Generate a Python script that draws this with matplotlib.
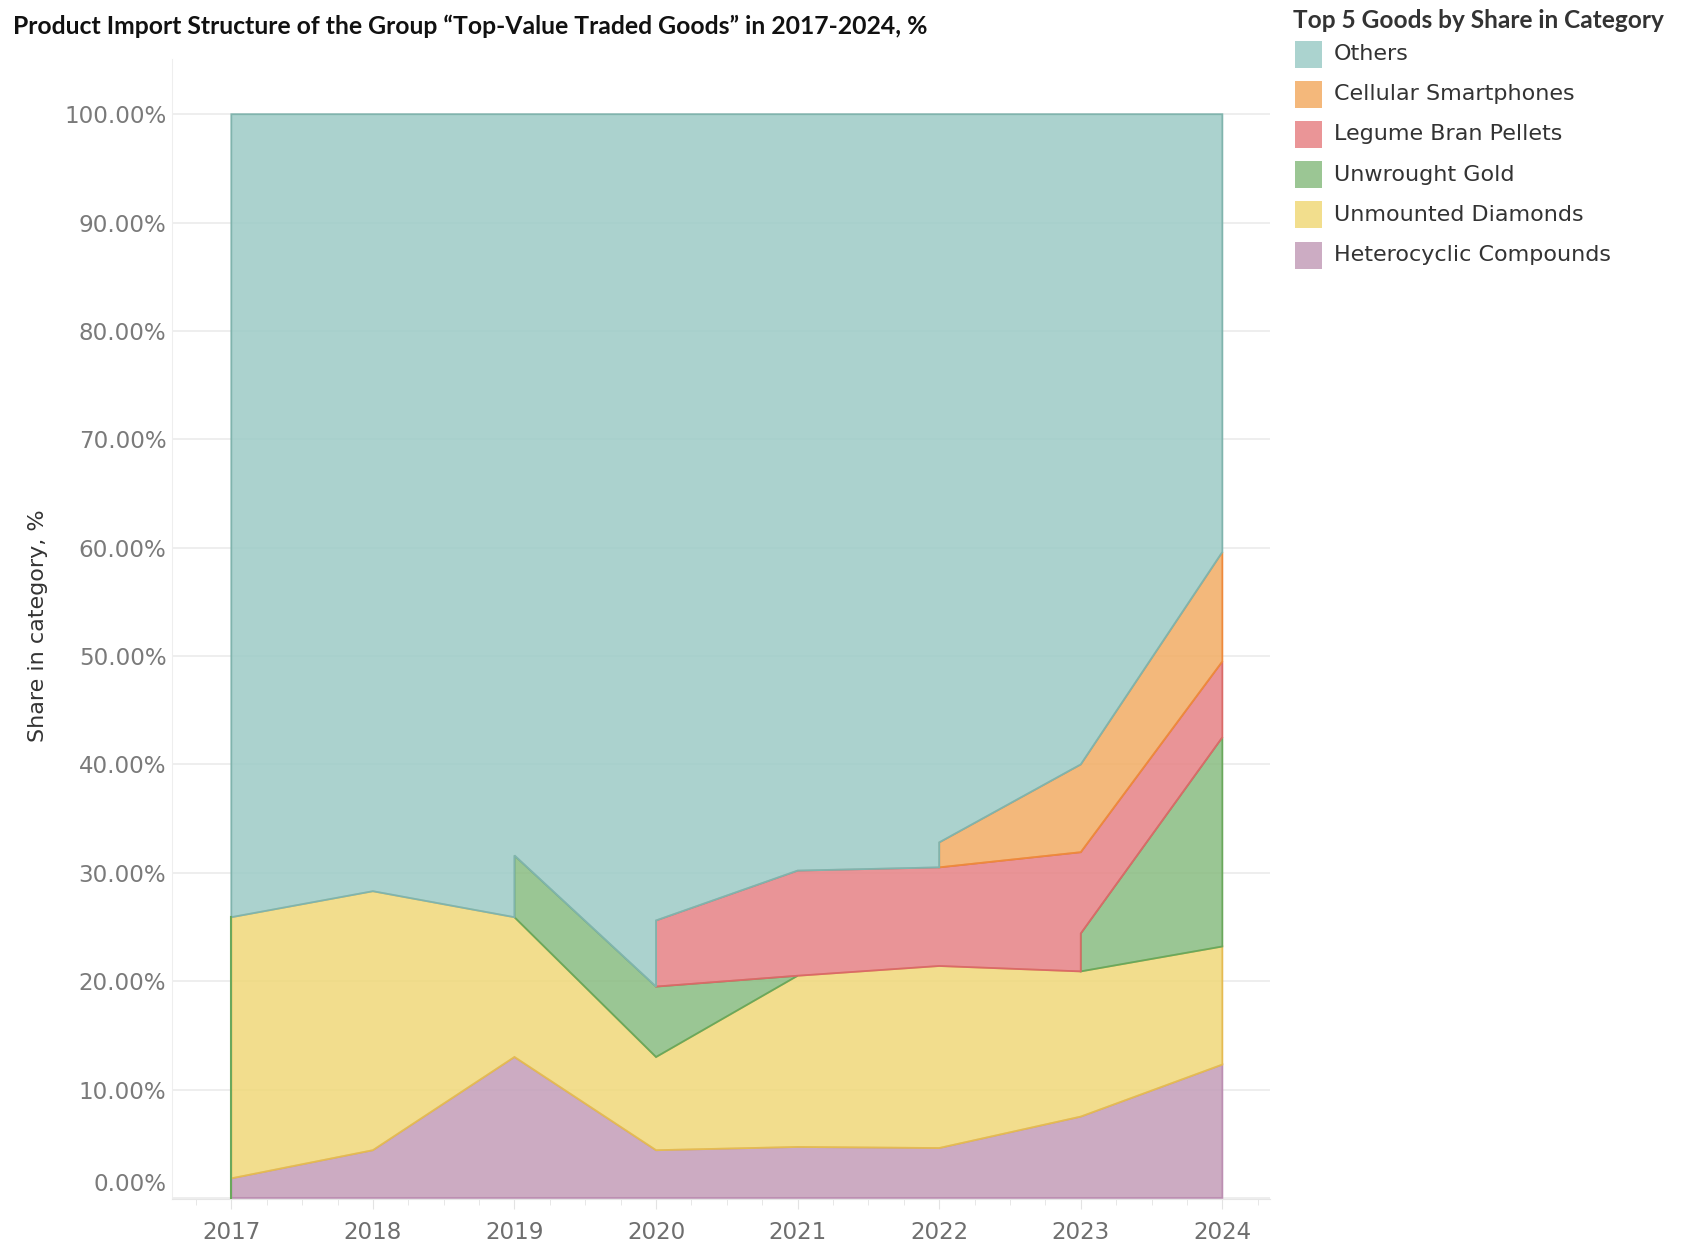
import numpy as np
import matplotlib.pyplot as plt
from matplotlib.patches import Rectangle
from matplotlib.transforms import ScaledTranslation
from matplotlib.ticker import MultipleLocator

# shares in category, %, per year; nan = good not among the top in that year
years = [2017, 2018, 2019, 2020, 2021, 2022, 2023, 2024]
nan = np.nan
heterocyclic = [1.8, 4.4, 13.0, 4.4, 4.7, 4.6, 7.5, 12.3]
diamonds = [24.1, 23.9, 12.9, 8.6, 15.8, 16.8, 13.4, 10.9]
gold = [nan, nan, 5.7, 6.5, 0.0, nan, 3.5, 19.3]
legume = [nan, nan, nan, 6.1, 9.7, 9.1, 7.5, 7.0]
smartphones = [nan, nan, nan, nan, nan, 2.3, 8.1, 10.1]
others = [74.1, 71.7, 68.4, 74.4, 69.8, 67.2, 60.0, 40.4]

names = ["Heterocyclic Compounds", "Unmounted Diamonds", "Unwrought Gold",
         "Legume Bran Pellets", "Cellular Smartphones", "Others"]
values = [heterocyclic, diamonds, gold, legume, smartphones, others]
legend_colors = ["#ccacc3", "#f2de8d", "#9bc694", "#ea9597", "#f4b87b", "#abd3cf"]
fill_colors = ["#c39db8", "#f0d879", "#89bc81", "#e68285", "#f2ac64", "#9ccbc6"]
edge_colors = ["#bc8fb2", "#e5bb52", "#6aa85c", "#da6a68", "#ee8a3c", "#80b4ad"]

fig = plt.figure(figsize=(16.85, 12.44), dpi=100)
ax = fig.add_axes([0.102, 0.0362, 0.652, 0.9164])

x = np.array(years, dtype=float)
vals = np.array(values, dtype=float)
present = ~np.isnan(vals)
tops = np.cumsum(np.nan_to_num(vals), axis=0)
n = len(years)

for k in range(len(names)):
    drawn = present[k][:-1] & present[k][1:]
    # bottom of each segment = top of the nearest lower series drawn there
    seg_bottom = []
    for i in range(n - 1):
        b = (0.0, 0.0)
        for j in range(k - 1, -1, -1):
            if present[j][i] and present[j][i + 1]:
                b = (tops[j][i], tops[j][i + 1])
                break
        seg_bottom.append(b)
    i = 0
    while i < n - 1:
        if not drawn[i]:
            i += 1
            continue
        i0 = i
        while i < n - 1 and drawn[i]:
            i += 1
        i1 = i - 1
        xs = list(x[i0:i1 + 2])
        ys = list(tops[k][i0:i1 + 2])
        for s in range(i1, i0 - 1, -1):
            xs += [x[s + 1], x[s]]
            ys += [seg_bottom[s][1], seg_bottom[s][0]]
        ax.fill(xs, ys, facecolor=fill_colors[k], alpha=0.85, zorder=2 + k, lw=0)
        ax.fill(xs, ys, facecolor="none", edgecolor=edge_colors[k], lw=1.3,
                zorder=2 + k, joinstyle="miter")

# green edge Tableau draws at the first year
ax.plot([x[0], x[0]], [0, tops[1][0]], color=edge_colors[2], lw=1.5, zorder=9)

ax.set_xlim(2016.58, 2024.34)
ax.set_ylim(-0.1, 105.1)
ax.set_yticks(np.arange(0, 101, 10))
ax.set_yticklabels([f"{v:.2f}%" for v in np.arange(0, 101, 10)])
ax.set_xticks(years)
ax.set_xticklabels([str(y) for y in years])
ax.xaxis.set_minor_locator(MultipleLocator(0.25))
ax.grid(axis="y", color="#ebebeb", lw=1.2, zorder=0)
ax.set_axisbelow(True)
for side in ["top", "right"]:
    ax.spines[side].set_visible(False)
ax.spines["left"].set_color("#eeeeee")
ax.spines["bottom"].set_color("#e6e6e6")
ax.tick_params(axis="y", length=0, pad=4, labelsize=16.6, labelcolor="#7a7a7a")
ax.tick_params(axis="x", which="major", length=7, color="#e3e3e3", pad=9,
               labelsize=16.6, labelcolor="#6e6e6e")
ax.tick_params(axis="x", which="minor", length=4, color="#e3e3e3")

# Tableau lifts the 0% label above the axis
lbl0 = ax.get_yticklabels()[0]
lbl0.set_transform(lbl0.get_transform() + ScaledTranslation(0, 0.16, fig.dpi_scale_trans))

fig.text(0.0223, 0.497, "Share in category, %", rotation=90, ha="center",
         va="center", fontsize=16, color="#333333")
fig.text(0.0077, 0.979, "Product Import Structure of the Group \u201cTop-Value Traded Goods\u201d in 2017-2024, %",
         ha="left", va="center", fontsize=17.8, fontweight="bold", family="Lato",
         color="#111111")

fig.text(1293 / 1685, 1 - 20 / 1244, "Top 5 Goods by Share in Category", ha="left",
         va="center", fontsize=17.6, fontweight="bold", family="Lato", color="#333333")
for i, k in enumerate(range(len(names) - 1, -1, -1)):
    yc = 1 - (54 + 40.2 * i) / 1244
    fig.add_artist(Rectangle((1295 / 1685, yc - 13.5 / 1244), 27 / 1685, 27 / 1244,
                             transform=fig.transFigure, color=legend_colors[k], lw=0))
    fig.text(1334 / 1685, yc, names[k], ha="left", va="center", fontsize=16,
             color="#333333")

fig.savefig("out.png", dpi=100)
